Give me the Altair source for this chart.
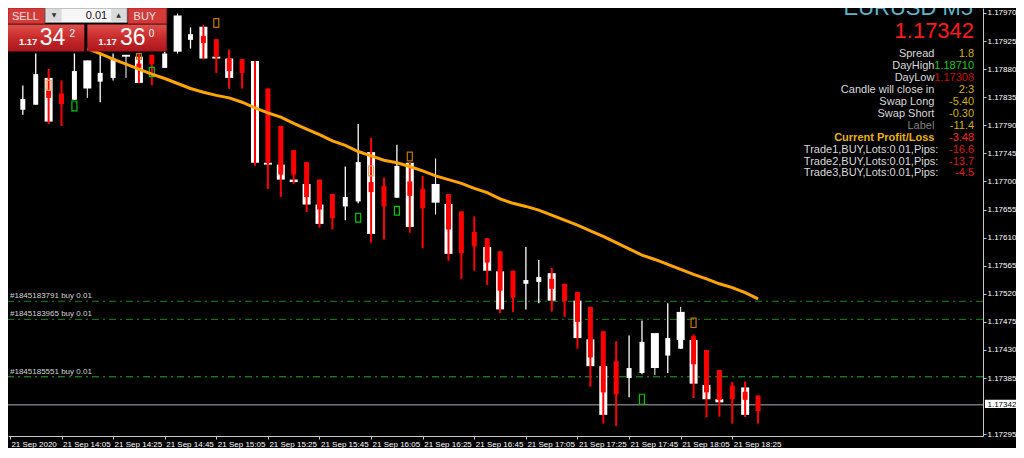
import altair as alt
import pandas as pd

# ---------------- geometry of the plot area (px) ----------------
W, H = 975, 428
REF_W, REF_H = 983.0, 442.0


def px(v):
    return v * W / REF_W


def py(v):
    return v * H / REF_H


FONT = "Liberation Sans"

# ---------------- data ----------------
# time axis (one slot = one 5-minute candle)
tick_slots = [-1, 3, 7, 11, 15, 19, 23, 27, 31, 35, 39, 43, 47, 51, 55]
tick_labels = ["21 Sep 2020", "21 Sep 14:05", "21 Sep 14:25", "21 Sep 14:45", "21 Sep 15:05",
               "21 Sep 15:25", "21 Sep 15:45", "21 Sep 16:05", "21 Sep 16:25", "21 Sep 16:45",
               "21 Sep 17:05", "21 Sep 17:25", "21 Sep 17:45", "21 Sep 18:05", "21 Sep 18:25"]
price_ticks = [1.17970, 1.17925, 1.17880, 1.17835, 1.17790, 1.17745, 1.17700, 1.17655,
               1.17610, 1.17565, 1.17520, 1.17475, 1.17430, 1.17385, 1.17295]

# wide white candles
a_slot = [2, 5, 8, 9, 12, 14, 15, 16, 18, 19, 20, 21, 22, 23, 27, 30, 32, 33, 36, 37,
          41, 43, 44, 45, 49, 51, 52, 53, 54, 56]
a_high = [1.17880, 1.17894, 1.17903, 1.17905, 1.17969, 1.17950, 1.17900, 1.17911, 1.17893, 1.17730,
          1.17727, 1.17703, 1.17696, 1.17663, 1.17747, 1.17730, 1.17737, 1.17664, 1.17595, 1.17556,
          1.17561, 1.17509, 1.17447, 1.17404, 1.17457, 1.17499, 1.17446, 1.17374, 1.17351, 1.17379]
a_low = [1.17792, 1.17834, 1.17866, 1.17858, 1.17905, 1.17896, 1.17897, 1.17849, 1.17730, 1.17727,
         1.17703, 1.17699, 1.17663, 1.17632, 1.17616, 1.17627, 1.17647, 1.17584, 1.17557, 1.17495,
         1.17492, 1.17449, 1.17404, 1.17326, 1.17390, 1.17446, 1.17376, 1.17351, 1.17346, 1.17323]
a_top = [1.17866, 1.17894, 1.17903, 1.17900, 1.17966, 1.17948, 1.17900, 1.17897, 1.17893, 1.17730,
         1.17727, 1.17703, 1.17696, 1.17663, 1.17747, 1.17730, 1.17696, 1.17664, 1.17595, 1.17556,
         1.17553, 1.17509, 1.17447, 1.17404, 1.17457, 1.17491, 1.17446, 1.17374, 1.17351, 1.17370]
a_bottom = [1.17796, 1.17849, 1.17900, 1.17858, 1.17908, 1.17897, 1.17897, 1.17866, 1.17730, 1.17727,
            1.17703, 1.17699, 1.17663, 1.17632, 1.17616, 1.17627, 1.17666, 1.17584, 1.17557, 1.17495,
            1.17509, 1.17449, 1.17404, 1.17326, 1.17401, 1.17446, 1.17376, 1.17351, 1.17346, 1.17326]

# narrow red / white bars (Heiken Ashi style)
b_slot = [0, 1, 2, 3, 4, 6, 7, 9, 10, 11, 13, 14, 15, 16, 17, 18, 19, 20, 21, 22,
          23, 24, 25, 26, 27, 28, 29, 30, 31, 33, 34, 35, 36, 37, 38, 39, 40, 41, 42, 43,
          44, 45, 46, 47, 48, 50, 51, 52, 53, 54, 55, 56, 57]
b_dir = ["bull", "bull", "bear", "bear", "bull", "bull", "bull", "bear", "bear", "bull",
         "bull", "bear", "bear", "bear", "bear", "bear", "bear", "bear", "bear", "bear",
         "bear", "bear", "bull", "bull", "bear", "bear", "bull", "bear", "bear", "bear",
         "bear", "bear", "bear", "bear", "bear", "bull", "bull", "bear", "bear", "bear",
         "bear", "bear", "bear", "bull", "bull", "bull", "bull", "bear", "bear", "bear",
         "bear", "bear", "bear"]
b_high = [1.17854, 1.17905, 1.17880, 1.17862, 1.17905, 1.17905, 1.17905, 1.17905, 1.17903, 1.17908,
          1.17947, 1.17950, 1.17928, 1.17911, 1.17896, 1.17893, 1.17849, 1.17789, 1.17750, 1.17731,
          1.17703, 1.17680, 1.17724, 1.17792, 1.17770, 1.17706, 1.17759, 1.17730, 1.17709, 1.17680,
          1.17652, 1.17644, 1.17609, 1.17588, 1.17557, 1.17595, 1.17574, 1.17561, 1.17536, 1.17523,
          1.17499, 1.17460, 1.17444, 1.17453, 1.17477, 1.17505, 1.17446, 1.17455, 1.17430, 1.17398,
          1.17379, 1.17379, 1.17357]
b_low = [1.17807, 1.17823, 1.17792, 1.17789, 1.17831, 1.17827, 1.17862, 1.17858, 1.17854, 1.17882,
         1.17913, 1.17896, 1.17874, 1.17849, 1.17849, 1.17725, 1.17688, 1.17675, 1.17696, 1.17651,
         1.17626, 1.17623, 1.17638, 1.17665, 1.17602, 1.17607, 1.17674, 1.17618, 1.17593, 1.17573,
         1.17544, 1.17557, 1.17534, 1.17489, 1.17491, 1.17495, 1.17505, 1.17492, 1.17483, 1.17432,
         1.17371, 1.17312, 1.17308, 1.17354, 1.17391, 1.17393, 1.17432, 1.17353, 1.17322, 1.17323,
         1.17312, 1.17323, 1.17312]
b_top = [1.17832, 1.17872, 1.17846, 1.17841, 1.17877, 1.17874, 1.17897, 1.17889, 1.17903, 1.17905,
         1.17936, 1.17933, 1.17928, 1.17897, 1.17896, None, 1.17849, 1.17789, 1.17750, 1.17731,
         1.17703, 1.17680, 1.17675, 1.17731, 1.17699, 1.17693, 1.17725, 1.17700, 1.17688, 1.17680,
         1.17652, 1.17619, 1.17609, 1.17588, 1.17557, 1.17542, 1.17547, 1.17544, 1.17536, 1.17523,
         1.17499, 1.17460, 1.17412, 1.17401, 1.17443, 1.17449, 1.17446, 1.17452, 1.17430, 1.17398,
         1.17373, 1.17363, 1.17357]
b_bottom = [1.17815, 1.17823, 1.17834, 1.17824, 1.17831, 1.17860, 1.17866, 1.17882, 1.17888, 1.17882,
            1.17927, 1.17922, 1.17900, 1.17877, 1.17874, None, 1.17730, 1.17711, 1.17711, 1.17675,
            1.17655, 1.17641, 1.17660, 1.17668, 1.17683, 1.17660, 1.17674, 1.17677, 1.17657, 1.17623,
            1.17585, 1.17596, 1.17570, 1.17525, 1.17514, 1.17536, 1.17539, 1.17528, 1.17508, 1.17475,
            1.17418, 1.17362, 1.17359, 1.17385, 1.17393, 1.17421, 1.17432, 1.17407, 1.17362, 1.17350,
            1.17351, 1.17350, 1.17332]

# moving average (orange)
ma_slot = list(range(5, 58))
ma_value = [1.17913, 1.17905, 1.17896, 1.17888, 1.17880, 1.17872, 1.17865, 1.17857, 1.17849, 1.17843,
            1.17838, 1.17834, 1.17827, 1.17818, 1.17810, 1.17803, 1.17793, 1.17784, 1.17775, 1.17765,
            1.17758, 1.17748, 1.17741, 1.17734, 1.17730, 1.17724, 1.17717, 1.17709, 1.17703, 1.17697,
            1.17689, 1.17682, 1.17672, 1.17665, 1.17660, 1.17654, 1.17646, 1.17638, 1.17630, 1.17621,
            1.17612, 1.17602, 1.17592, 1.17582, 1.17575, 1.17567, 1.17559, 1.17551, 1.17544, 1.17536,
            1.17530, 1.17522, 1.17512]

# small outlined arrow markers
mk_slot = [2, 4, 9, 10, 15, 26, 27, 29, 30, 48, 52]
mk_top = [1.17862, 1.17829, 1.17905, 1.17883, 1.17961, 1.17649, 1.17725, 1.17660, 1.17747, 1.17359, 1.17481]
mk_bottom = [1.17846, 1.17813, 1.17896, 1.17868, 1.17947, 1.17635, 1.17709, 1.17646, 1.17733, 1.17343, 1.17466]
mk_kind = ["exit", "buy", "stop", "buy", "stop", "buy", "exit", "buy", "stop", "buy", "stop"]

# open trades
trade_ids = ["#1845183791", "#1845183965", "#1845185551"]
trade_price = [1.17508, 1.17479, 1.17387]
trade_side = ["buy", "buy", "buy"]
trade_lots = ["0.01", "0.01", "0.01"]

current_price = 1.17342
price_box_top = 1.17350
price_box_bottom = 1.17337

symbol_title = "EURUSD M5"
bid_text = "1.17342"
info_labels = ["Spread", "DayHigh", "DayLow", "Candle will close in", "Swap Long", "Swap Short",
               "Label", "Current Profit/Loss", "Trade1,BUY,Lots:0.01,Pips:",
               "Trade2,BUY,Lots:0.01,Pips:", "Trade3,BUY,Lots:0.01,Pips:"]
info_values = ["1.8", "1.18710", "1.17308", "2:3", "-5.40", "-0.30", "-11.4", "-3.48",
               "-16.6", "-13.7", "-4.5"]

sell_pre, sell_big, sell_sup = "1.17", "34", "2"
buy_pre, buy_big, buy_sup = "1.17", "36", "0"
lot_text = "0.01"

# ---------------- scales / axes ----------------
x_scale = alt.Scale(domain=[-0.761, 74.05], nice=False, zero=False)
y_scale = alt.Scale(domain=[1.172921, 1.17978], nice=False, zero=False)

label_expr = "''"
for s, lab in reversed(list(zip(tick_slots, tick_labels))):
    label_expr = f"datum.value == {s} ? '{lab}' : ({label_expr})"

x_axis = alt.Axis(values=tick_slots, labelExpr=label_expr, labelAlign="left", labelOffset=1,
                  labelColor="#ffffff", labelFont=FONT, labelFontSize=8, labelPadding=1,
                  labelBaseline="top", tickSize=3, tickColor="#c8c8c8", domainColor="#c8c8c8",
                  grid=False, title=None, labelOverlap=False, labelFlush=False)
y_axis = alt.Axis(orient="right", values=price_ticks, format=".5f", labelColor="#ffffff",
                  labelFont=FONT, labelFontSize=8, labelPadding=1, labelAlign="left",
                  labelBaseline="middle", tickSize=3, tickColor="#c8c8c8", domainColor="#c8c8c8",
                  grid=False, title=None, labelOverlap=False, labelFlush=False)


def X(field):
    return alt.X(f"{field}:Q", scale=x_scale, axis=x_axis, title=None)


def Y(field):
    return alt.Y(f"{field}:Q", scale=y_scale, axis=y_axis, title=None)


def YD(value):
    return alt.Y(datum=value, type="quantitative", scale=y_scale, axis=y_axis, title=None)


dir_color = alt.Color("dir:N", scale=alt.Scale(domain=["bear", "bull"], range=["#ff0000", "#ffffff"]),
                      legend=None)

dfA = pd.DataFrame(dict(slot=a_slot, high=a_high, low=a_low, top=a_top, bottom=a_bottom))
dfB = pd.DataFrame(dict(slot=b_slot, dir=b_dir, high=b_high, low=b_low, top=b_top, bottom=b_bottom))
dfB_body = dfB.dropna()
dfMA = pd.DataFrame(dict(slot=ma_slot, ma=ma_value))
dfMK = pd.DataFrame(dict(slot=mk_slot, top=mk_top, bottom=mk_bottom, kind=mk_kind))
dfT = pd.DataFrame(dict(tid=trade_ids, price=trade_price))
dfT["label"] = [f"{i} {s} {l}" for i, s, l in zip(trade_ids, trade_side, trade_lots)]
one = pd.DataFrame({"k": [0]})

layers = []

# current price line
layers.append(alt.Chart(pd.DataFrame({"p": [current_price]})).mark_rule(
    color="#74747c", strokeWidth=1.5).encode(y=Y("p")))

# trade level lines
layers.append(alt.Chart(dfT).mark_rule(strokeDash=[7, 4, 2, 4], strokeWidth=1).encode(
    y=Y("price"),
    color=alt.Color("tid:N", scale=alt.Scale(domain=trade_ids, range=["#138a13", "#138a13", "#20b020"]),
                    legend=None)))

# wide white candles
layers.append(alt.Chart(dfA).mark_rule(color="#ffffff", strokeWidth=1).encode(
    x=X("slot"), y=Y("high"), y2="low"))
layers.append(alt.Chart(dfA).mark_bar(color="#ffffff", size=8).encode(
    x=X("slot"), y=Y("top"), y2="bottom"))

# narrow bars
layers.append(alt.Chart(dfB).mark_rule().encode(
    x=X("slot"), y=Y("high"), y2="low", color=dir_color,
    strokeWidth=alt.StrokeWidth("dir:N", scale=alt.Scale(domain=["bear", "bull"], range=[2, 1.3]),
                                legend=None)))
layers.append(alt.Chart(dfB_body).mark_bar(size=5).encode(
    x=X("slot"), y=Y("top"), y2="bottom", color=dir_color))

# markers
layers.append(alt.Chart(dfMK).mark_bar(size=5, fill="transparent", strokeWidth=1.2).encode(
    x=X("slot"), y=Y("top"), y2="bottom",
    stroke=alt.Stroke("kind:N", scale=alt.Scale(domain=["buy", "exit", "stop"],
                                                 range=["#00c800", "#f2a25a", "#c27800"]), legend=None)))

# moving average
layers.append(alt.Chart(dfMA).mark_line(color="#ffa500", strokeWidth=3).encode(
    x=X("slot"), y=Y("ma")))

# trade labels
layers.append(alt.Chart(dfT).mark_text(align="left", baseline="alphabetic", dy=-3, font=FONT,
                                       fontSize=8, color="#d4d4d4").encode(
    x=alt.value(px(2)), y=Y("price"), text="label:N"))

# current price box on the axis
layers.append(alt.Chart(one).mark_rect(fill="#ffffff").encode(
    x=alt.value(px(985)), x2=alt.value(px(1020)), y=YD(price_box_top), y2=alt.datum(price_box_bottom)))
layers.append(alt.Chart(one).mark_text(text=bid_text, align="left", baseline="middle", font=FONT,
                                       fontSize=8, color="#000000").encode(
    x=alt.value(px(987.5)), y=YD(current_price)))

# ---------------- info panel (top right) ----------------
def txt(t, x, y, size, color, align="left", weight="normal", font=FONT):
    return alt.Chart(one).mark_text(text=t, align=align, baseline="alphabetic", font=font,
                                    fontSize=size, color=color, fontWeight=weight).encode(
        x=alt.value(px(x)), y=alt.value(py(y)))


layers.append(txt(symbol_title, 973, 7, 22, "#5db6c9", align="right"))
layers.append(txt(bid_text, 974, 31, 22, "#ff1a1a", align="right"))

label_colors = ["#d9d9d9"] * 6 + ["#808080", "#e8b400"] + ["#d9d9d9"] * 3
value_colors = ["#d2b000", "#1ccc1c", "#cc0a0a", "#d2b000", "#d2b000", "#d2b000", "#d2b000",
                "#ff2020", "#e01414", "#e01414", "#e01414"]
for i, (lab, val) in enumerate(zip(info_labels, info_values)):
    base = 50.7 + i * 12.33
    lx = 938 if lab.startswith("Trade") else 934
    weight = "bold" if lab.startswith("Current") else "normal"
    layers.append(txt(lab, lx, base, 11, label_colors[i], align="right", weight=weight))
    layers.append(txt(val, 974, base, 11, value_colors[i], align="right"))

# ---------------- one-click trading panel (top left) ----------------
def box(x1, y1, x2, y2, fill, stroke=None):
    kw = dict(fill=fill)
    if stroke:
        kw.update(stroke=stroke, strokeWidth=1)
    return alt.Chart(one).mark_rect(**kw).encode(
        x=alt.value(px(x1)), x2=alt.value(px(x2)), y=alt.value(py(y1)), y2=alt.value(py(y2)))


grad = alt.LinearGradient(gradient="linear",
                          stops=[alt.GradientStop(color="#e0504c", offset=0),
                                 alt.GradientStop(color="#c82a2c", offset=0.5),
                                 alt.GradientStop(color="#aa161c", offset=1)],
                          x1=0, x2=0, y1=0, y2=1)
layers.append(box(0, 0, 37, 16, "#d33b3a", "#a82222"))
layers.append(box(121, 0, 160, 16, "#d33b3a", "#a82222"))
layers.append(box(37.5, 0, 120, 15, "#f6f6f6", "#8c8c8c"))
layers.append(box(38.5, 1, 54, 14, "#dadada"))
layers.append(box(104, 1, 119, 14, "#dadada"))
layers.append(box(0, 17, 77, 45, grad))
layers.append(box(80, 17, 160, 45, grad))

layers.append(txt("SELL", 17.5, 12, 11, "#f8e0e0", align="center"))
layers.append(txt("BUY", 138, 12, 11, "#f8e0e0", align="center"))
layers.append(txt(lot_text, 100, 11.5, 11, "#111111", align="right"))
layers.append(txt("▼", 46.5, 9.5, 6, "#333333", align="center", font="DejaVu Sans"))
layers.append(txt("▲", 111.5, 9.5, 6, "#333333", align="center", font="DejaVu Sans"))
layers.append(txt(sell_pre, 11, 38.5, 9.5, "#ffffff", weight="bold"))
layers.append(txt(sell_big, 32, 38.5, 23, "#ffffff"))
layers.append(txt(sell_sup, 62, 30, 10, "#ffffff"))
layers.append(txt(buy_pre, 91, 38.5, 9.5, "#ffffff", weight="bold"))
layers.append(txt(buy_big, 113, 38.5, 23, "#ffffff"))
layers.append(txt(buy_sup, 142, 30, 10, "#ffffff"))

chart = alt.layer(*layers).resolve_scale(
    color="independent", stroke="independent", strokeWidth="independent"
).properties(
    width=W, height=H, autosize="none",
    padding={"left": 0, "top": 0, "right": 33, "bottom": 12},
    background="#000000",
).configure_view(strokeWidth=0, fill="#000000")

chart.save("out.html", embed_options={"renderer": "svg", "actions": False})
